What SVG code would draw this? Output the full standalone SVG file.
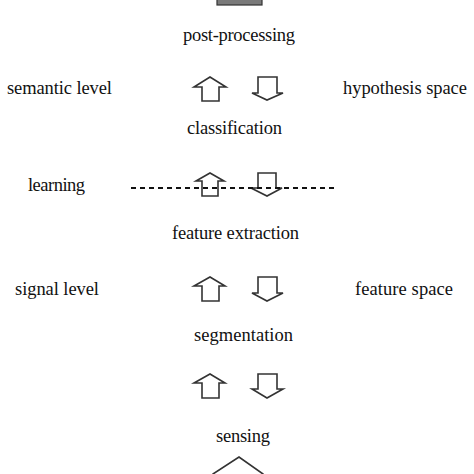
<svg xmlns="http://www.w3.org/2000/svg" width="474" height="474" viewBox="0 0 474 474">
<style>
text{font-family:"Liberation Serif","Times New Roman",serif;font-size:18.5px;fill:#111}
.arr{fill:#fff;stroke:#333;stroke-width:1.6;stroke-linejoin:miter}
.dash{stroke:#111;stroke-width:2.2;stroke-dasharray:5,4;fill:none}
</style>
<rect width="474" height="474" fill="#fff"/>
<g id="top-box"><rect x="217" y="-3" width="45" height="8" fill="#7a7a7a" stroke="#333" stroke-width="1.2"/></g>
<g id="post-processing"><text x="183" y="41" textLength="112">post-processing</text></g>
<g id="semantic-level"><text x="7" y="94" textLength="105">semantic level</text></g>
<g id="hypothesis-space"><text x="343" y="94" textLength="124">hypothesis space</text></g>
<g id="classification"><text x="187" y="134" textLength="95">classification</text></g>
<g id="learning"><text x="28" y="191" textLength="57">learning</text></g>
<g id="feature-extraction"><text x="172" y="239" textLength="127">feature extraction</text></g>
<g id="signal-level"><text x="15" y="295" textLength="84">signal level</text></g>
<g id="feature-space"><text x="355" y="295" textLength="98">feature space</text></g>
<g id="segmentation"><text x="194" y="341" textLength="99">segmentation</text></g>
<g id="sensing"><text x="216" y="442" textLength="54">sensing</text></g>
<g id="bottom-shape"><polyline points="213,476 213,474 239,457 263,474 263,476" fill="none" stroke="#333" stroke-width="1.6"/></g>
<g id="connectors">
<path class="arr" d="M202,101 V87 H194 L210,77 L226,87 H219 V101 Z"/>
<path class="arr" d="M258,77 H277 V93 H283 L267,100 L252,93 H258 Z"/>
<path class="arr" d="M202,196 V181 H196 L210,173 L224,181 H218 V196 Z"/>
<path class="arr" d="M258,173 H276 V188 H282 L267,196 L251,188 H258 Z"/>
<line class="dash" x1="131" y1="188" x2="337" y2="188"/>
<path class="arr" d="M202,301 V286 H194 L210,277 L225,286 H219 V301 Z"/>
<path class="arr" d="M258,277 H277 V293 H283 L267,301 L252,293 H258 Z"/>
<path class="arr" d="M202,398 V383 H194 L210,374 L225,383 H219 V398 Z"/>
<path class="arr" d="M258,374 H277 V389 H283 L267,398 L252,389 H258 Z"/>
</g>
</svg>
